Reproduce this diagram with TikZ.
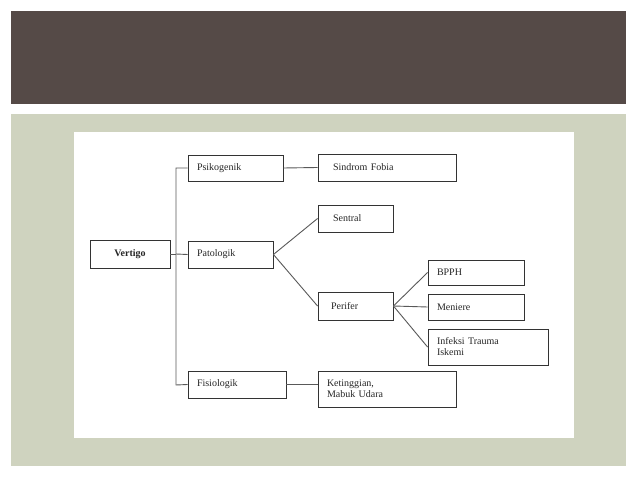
\documentclass[tikz,border=0pt]{standalone}
\usepackage{fontspec}
\setmainfont{Liberation Serif}
\begin{document}
\begin{tikzpicture}[x=1pt,y=-1pt,
  bx/.style={draw=black!80, line width=0.9pt, rectangle, align=left, inner xsep=0pt, inner ysep=0pt, font=\fontsize{10}{11}\selectfont, text=black!85},
  ln/.style={draw=black!65, line width=0.9pt}]
\useasboundingbox (0,0) rectangle (638,478);
\fill[white] (0,0) rectangle (638,478);
\fill[fill={rgb,255:red,85;green,74;blue,71}] (11,11) rectangle (626,104);
\fill[fill={rgb,255:red,207;green,211;blue,191}] (11,114) rectangle (626,466);
\fill[white] (74,132) rectangle (574,438);
\newcommand{\bxx}[6]{% name, x1,y1,x2,y2,text
  \node[bx, minimum width={#4-#2}, minimum height={#5-#3}, text width={#4-#2-18}] (#1) at ({(#2+#4)/2},{(#3+#5)/2}) {#6};}
\node[bx, minimum width=80, minimum height=28, align=center, font=\fontsize{10}{11}\selectfont\bfseries] (v) at (130,254) {Vertigo};
\bxx{psi}{188}{155}{283}{181}{Psikogenik}
\bxx{sf}{318}{154}{456}{181}{\hspace*{6pt}Sindrom Fobia}
\bxx{pat}{188}{241}{273}{268}{Patologik}
\bxx{sen}{318}{205}{393}{232}{\hspace*{6pt}Sentral}
\bxx{per}{318}{292}{393}{320}{\hspace*{4pt}Perifer}
\bxx{bp}{428}{260}{524}{285}{BPPH}
\bxx{men}{428}{294}{524}{320}{Meniere}
\bxx{inf}{428}{329}{548}{365}{Infeksi Trauma\\Iskemi}
\bxx{fis}{188}{371}{286}{398}{Fisiologik}
\bxx{ket}{318}{371}{456}{407}{Ketinggian,\\Mabuk Udara}
\coordinate (t) at (176,168);
\coordinate (b) at (176,385);
\draw[ln] (v.east) -- (176,254);
\draw[ln] (psi.west) -- (t) -- (b) -- (fis.west);
\draw[ln] (176,254) -- (pat.west);
\draw[ln] (psi.east) -- (sf.west);
\draw[ln] (fis.east) -- (fis.east -| ket.west);
\draw[ln] (pat.east) -- (sen.west);
\draw[ln] (pat.east) -- (per.west);
\draw[ln] (per.east) -- (bp.west);
\draw[ln] (per.east) -- (men.west);
\draw[ln] (per.east) -- (inf.west);
\end{tikzpicture}
\end{document}
